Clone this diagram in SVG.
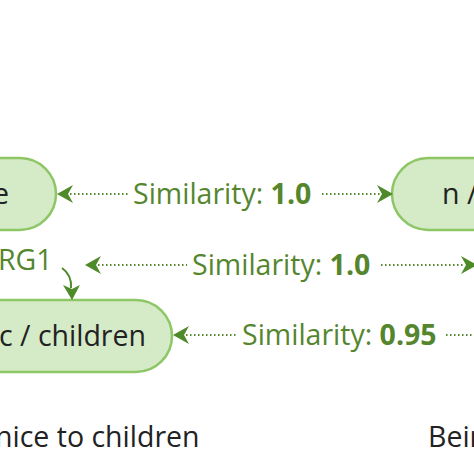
<svg xmlns="http://www.w3.org/2000/svg" width="474" height="474" viewBox="0 0 474 474">
<defs>
<style>
.node{fill:#d5eac6;stroke:#8cc665;stroke-width:2.5}
.nt{font-family:"Open Sans","Noto Sans",sans-serif;font-size:28.5px;fill:#222}
.lbl{font-family:"Open Sans","Noto Sans",sans-serif;font-size:28.5px;fill:#55862e}
.lbl tspan.b{font-weight:bold}
.dot{stroke:#55862e;stroke-width:2;stroke-dasharray:1.5 2.5;fill:none}
.ah{fill:#4e8a2a}
</style>
</defs>
<rect width="474" height="474" fill="#fff"/>
<g id="node-top-left">
<path class="node" d="M-40,158 H20 A36,36 0 0 1 20,230 H-40 Z"/>
<text class="nt" x="-7" y="204">e</text>
</g>
<g id="node-top-right">
<path class="node" d="M520,158 H428 A36,36 0 0 0 428,230 H520 Z"/>
<text class="nt" x="442" y="204">n /</text>
</g>
<g id="node-bottom-left">
<path class="node" d="M-40,300 H136 A36,36 0 0 1 136,372 H-40 Z"/>
<text class="nt" x="-1" y="346">c / children</text>
</g>
<g id="labels">
<text class="lbl" x="-2" y="270">RG1</text>
<text class="nt" x="-5" y="447">nice to children</text>
<text class="nt" x="428" y="447">Bein</text>
</g>
<g id="connectors">
<line class="dot" x1="70" y1="194" x2="128" y2="194"/>
<path class="ah" d="M57,194 L73,185 L68,194 L73,203 Z"/>
<text class="lbl" x="133" y="204">Similarity: <tspan class="b">1.0</tspan></text>
<line class="dot" x1="322" y1="194" x2="380" y2="194"/>
<path class="ah" d="M393,194 L377,185 L382,194 L377,203 Z"/>

<line class="dot" x1="98" y1="265" x2="187" y2="265"/>
<path class="ah" d="M85,265 L101,256 L96,265 L101,274 Z"/>
<text class="lbl" x="192" y="275">Similarity: <tspan class="b">1.0</tspan></text>
<line class="dot" x1="381" y1="265" x2="464" y2="265"/>
<path class="ah" d="M477,265 L461,256 L466,265 L461,274 Z"/>

<line class="dot" x1="186" y1="335" x2="236" y2="335"/>
<path class="ah" d="M173,335 L189,326 L184,335 L189,344 Z"/>
<text class="lbl" x="242" y="345">Similarity: <tspan class="b">0.95</tspan></text>
<line class="dot" x1="446" y1="335" x2="474" y2="335"/>

<path d="M62,268 Q72,275 71,288" fill="none" stroke="#4e8a2a" stroke-width="2"/>
<path class="ah" d="M72,300 L63,285 L72,289 L80,285 Z"/>
</g>
</svg>
